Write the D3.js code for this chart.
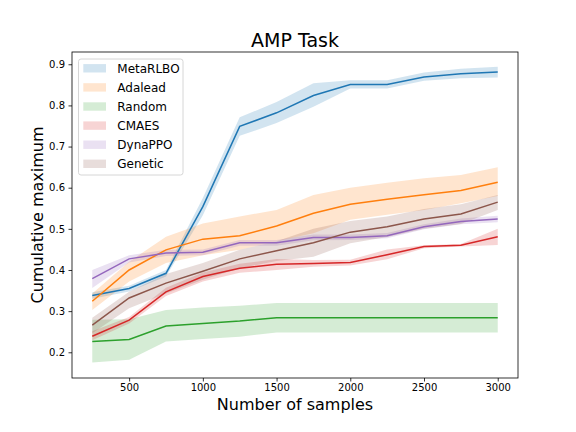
<!DOCTYPE html>
<html>
<head>
<meta charset="utf-8">
<script src="https://cdn.jsdelivr.net/npm/d3@7"></script>
<style>
  body { margin: 0; background: #fff; }
  svg { font-family: 'DejaVu Sans', sans-serif; }
</style>
</head>
<body>
<svg class="amp-svg"></svg>
<script>
// number of samples on the x axis
const samples = [250, 500, 750, 1000, 1250, 1500, 1750, 2000, 2250, 2500, 2750, 3000];

const methods = ['MetaRLBO', 'Adalead', 'Random', 'CMAES', 'DynaPPO', 'Genetic'];

const metaMean  = [0.338, 0.355, 0.392, 0.554, 0.749, 0.782, 0.824, 0.851, 0.851, 0.869, 0.877, 0.881];
const metaLow   = [0.330, 0.348, 0.384, 0.533, 0.726, 0.757, 0.797, 0.841, 0.841, 0.860, 0.866, 0.868];
const metaHigh  = [0.346, 0.362, 0.400, 0.575, 0.771, 0.808, 0.854, 0.861, 0.861, 0.880, 0.889, 0.894];

const adaMean   = [0.324, 0.400, 0.449, 0.475, 0.483, 0.507, 0.538, 0.560, 0.572, 0.583, 0.593, 0.613];
const adaLow    = [0.303, 0.372, 0.417, 0.436, 0.449, 0.470, 0.489, 0.522, 0.534, 0.546, 0.562, 0.580];
const adaHigh   = [0.343, 0.420, 0.481, 0.513, 0.530, 0.546, 0.582, 0.600, 0.612, 0.623, 0.631, 0.650];

const randMean  = [0.226, 0.231, 0.264, 0.270, 0.276, 0.284, 0.284, 0.284, 0.284, 0.284, 0.284, 0.284];
const randLow   = [0.175, 0.182, 0.226, 0.232, 0.238, 0.248, 0.248, 0.248, 0.248, 0.248, 0.248, 0.248];
const randHigh  = [0.279, 0.280, 0.303, 0.309, 0.313, 0.320, 0.320, 0.320, 0.320, 0.320, 0.320, 0.320];

const cmaMean   = [0.239, 0.278, 0.347, 0.384, 0.404, 0.414, 0.416, 0.418, 0.437, 0.457, 0.460, 0.481];
const cmaLow    = [0.229, 0.270, 0.337, 0.372, 0.393, 0.400, 0.408, 0.411, 0.426, 0.453, 0.457, 0.461];
const cmaHigh   = [0.251, 0.286, 0.357, 0.394, 0.415, 0.427, 0.424, 0.425, 0.450, 0.460, 0.463, 0.500];

const dynaMean  = [0.379, 0.427, 0.441, 0.443, 0.466, 0.466, 0.479, 0.479, 0.483, 0.505, 0.518, 0.524];
const dynaLow   = [0.356, 0.418, 0.434, 0.436, 0.459, 0.459, 0.472, 0.473, 0.477, 0.499, 0.511, 0.516];
const dynaHigh  = [0.400, 0.436, 0.449, 0.450, 0.473, 0.473, 0.486, 0.486, 0.490, 0.511, 0.525, 0.532];

const genMean   = [0.266, 0.332, 0.368, 0.397, 0.427, 0.447, 0.466, 0.492, 0.505, 0.524, 0.536, 0.565];
const genLow    = [0.246, 0.307, 0.343, 0.376, 0.404, 0.422, 0.432, 0.465, 0.480, 0.500, 0.512, 0.546];
const genHigh   = [0.284, 0.347, 0.390, 0.417, 0.449, 0.470, 0.500, 0.519, 0.530, 0.548, 0.560, 0.582];

const yTicks = [0.2, 0.3, 0.4, 0.5, 0.6, 0.7, 0.8, 0.9];
const xTicks = [500, 1000, 1500, 2000, 2500, 3000];

const colors = ['#1f77b4', '#ff7f0e', '#2ca02c', '#d62728', '#9467bd', '#8c564b'];

const series = [
  { name: methods[0], mean: metaMean, low: metaLow, high: metaHigh },
  { name: methods[1], mean: adaMean,  low: adaLow,  high: adaHigh },
  { name: methods[2], mean: randMean, low: randLow, high: randHigh },
  { name: methods[3], mean: cmaMean,  low: cmaLow,  high: cmaHigh },
  { name: methods[4], mean: dynaMean, low: dynaLow, high: dynaHigh },
  { name: methods[5], mean: genMean,  low: genLow,  high: genHigh }
];

const width = 576, height = 432;
const plotLeft = 72, plotRight = 518, plotTop = 52, plotBottom = 378;

const x = d3.scaleLinear().domain([112.5, 3137.5]).range([plotLeft, plotRight]);
const y = d3.scaleLinear().domain([0.1375, 0.9298]).range([plotBottom, plotTop]);

const svg = d3.select('.amp-svg')
  .attr('width', width)
  .attr('height', height);

const area = d3.area()
  .x((d, i) => x(samples[i]))
  .y0((d) => y(d[0]))
  .y1((d) => y(d[1]));

const line = d3.line()
  .x((d, i) => x(samples[i]))
  .y((d) => y(d));

// bands first, lines on top (like matplotlib zorder)
svg.append('g')
  .selectAll('path')
  .data(series)
  .enter()
  .append('path')
  .attr('d', (s) => area(s.low.map((v, i) => [v, s.high[i]])))
  .attr('fill', (s, i) => colors[i])
  .attr('fill-opacity', 0.2);

svg.append('g')
  .selectAll('path')
  .data(series)
  .enter()
  .append('path')
  .attr('d', (s) => line(s.mean))
  .attr('fill', 'none')
  .attr('stroke', (s, i) => colors[i])
  .attr('stroke-width', 1.5);

// axes
const xAxis = svg.append('g')
  .attr('transform', 'translate(0,' + plotBottom + ')')
  .call(d3.axisBottom(x).tickValues(xTicks).tickFormat(d3.format('d')).tickSizeInner(3.5).tickSizeOuter(0).tickPadding(2.5));

const yAxis = svg.append('g')
  .attr('transform', 'translate(' + plotLeft + ',0)')
  .call(d3.axisLeft(y).tickValues(yTicks).tickFormat(d3.format('.1f')).tickSizeInner(3.5).tickSizeOuter(0).tickPadding(3.5));

[xAxis, yAxis].forEach((a) => {
  a.select('.domain').remove();
  a.selectAll('line').attr('stroke', '#000').attr('stroke-width', 0.8);
  a.attr('font-family', null).attr('font-size', null);
  a.selectAll('text')
    .attr('font-family', 'DejaVu Sans')
    .attr('font-size', 10)
    .attr('fill', '#000');
});

// frame
svg.append('rect')
  .attr('x', plotLeft)
  .attr('y', plotTop)
  .attr('width', plotRight - plotLeft)
  .attr('height', plotBottom - plotTop)
  .attr('fill', 'none')
  .attr('stroke', '#000')
  .attr('stroke-width', 0.8);

// titles
svg.append('text')
  .attr('x', (plotLeft + plotRight) / 2)
  .attr('y', 46.5)
  .attr('text-anchor', 'middle')
  .attr('font-size', 19)
  .text('AMP Task');

svg.append('text')
  .attr('x', (plotLeft + plotRight) / 2)
  .attr('y', 409.5)
  .attr('text-anchor', 'middle')
  .attr('font-size', 16)
  .text('Number of samples');

svg.append('text')
  .attr('transform', 'translate(42.5,' + ((plotTop + plotBottom) / 2) + ') rotate(-90)')
  .attr('text-anchor', 'middle')
  .attr('font-size', 16)
  .text('Cumulative maximum');

// legend
const legend = svg.append('g');

legend.append('rect')
  .attr('x', 78.5)
  .attr('y', 59)
  .attr('width', 104.5)
  .attr('height', 116)
  .attr('rx', 2.5)
  .attr('fill', '#fff')
  .attr('fill-opacity', 0.8)
  .attr('stroke', '#cccccc')
  .attr('stroke-width', 0.8);

const item = legend.selectAll('g.item')
  .data(series)
  .enter()
  .append('g')
  .attr('class', 'item')
  .attr('transform', (d, i) => 'translate(0,' + (68.3 + i * 19.1) + ')');

item.append('rect')
  .attr('x', 83.3)
  .attr('y', -4.2)
  .attr('width', 22.7)
  .attr('height', 8.4)
  .attr('fill', (d, i) => colors[i])
  .attr('fill-opacity', 0.2);

item.append('text')
  .attr('x', 117.3)
  .attr('dy', '0.36em')
  .attr('font-size', 12)
  .attr('fill', '#000')
  .text((d) => d.name);
</script>
</body>
</html>
